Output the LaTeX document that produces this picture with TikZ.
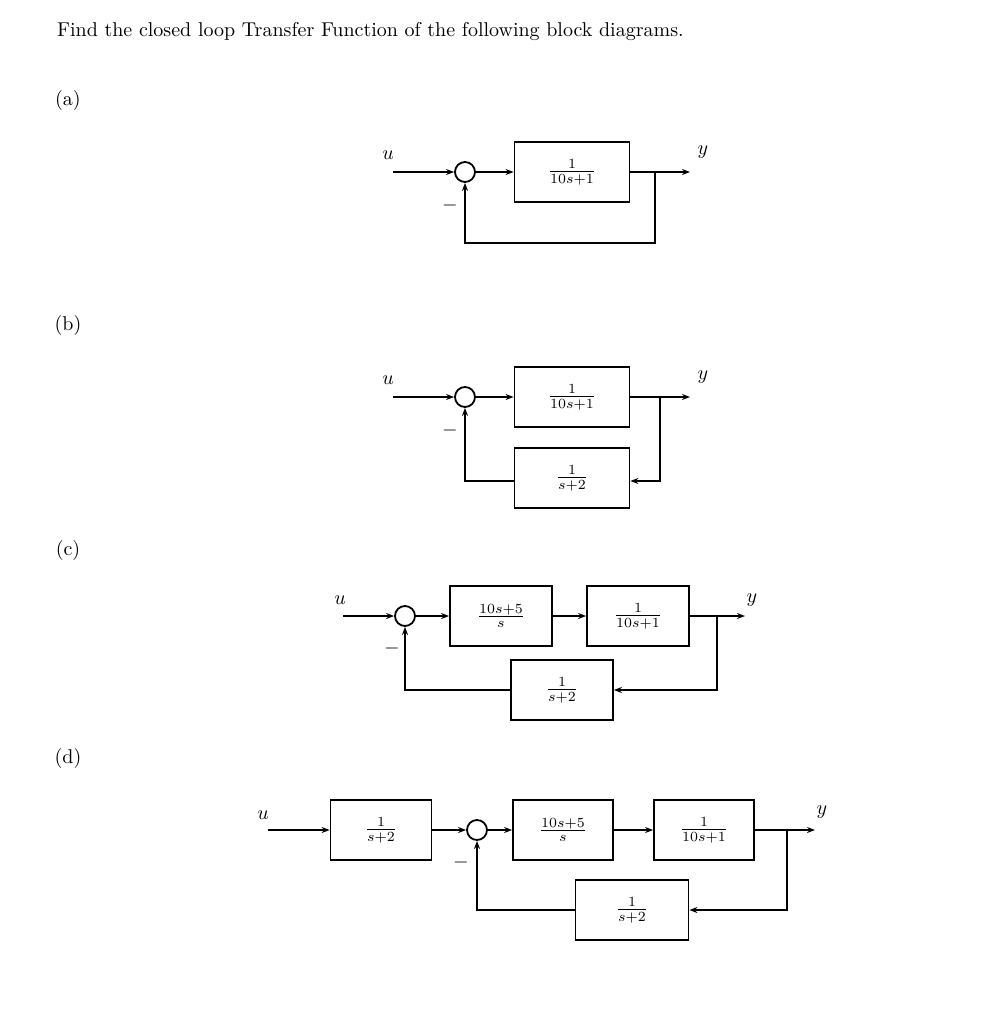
\documentclass[tikz,border=0pt]{standalone}
\usetikzlibrary{arrows.meta}
\begin{document}
\begin{tikzpicture}[x=0.5pt,y=-0.5pt,
 blk/.style={draw,line width=0.9pt,minimum width=#1*0.5pt,minimum height=30pt,inner sep=0pt},
 blk/.default=115,
 sumc/.style={draw,circle,line width=0.9pt,minimum size=10pt,inner sep=0pt},
 ln/.style={line width=0.9pt},
 ar/.style={ln,-{Stealth[length=4pt,width=3pt]}},
 lbl/.style={font=\normalsize}]
\useasboundingbox (0,0) rectangle (988,1024);
\node[anchor=west] (title) at (50,32) {Find the closed loop Transfer Function of the following block diagrams.};
\node (la) at (68,100) {(a)};
\node (lb) at (68,325) {(b)};
\node (lc) at (68,550) {(c)};
\node (ld) at (68,758) {(d)};
% (a)
\node (ua) at (388,155) {$u$};
\coordinate (ina) at (393,172);
\node[sumc] (sa) at (465,172) {};
\node[blk] (ga) at (572,172) {$\frac{1}{10s+1}$};
\coordinate (oa) at (690,172);
\node (ya) at (703,152) {$y$};
\coordinate (ba) at (655,172);
\coordinate (fa) at (655,243);
\coordinate (fa2) at (465,243);
\node (ma) at (450,205) {$-$};
\draw[ar] (ina) -- (sa);
\draw[ar] (sa) -- (ga);
\draw[ar] (ga) -- (oa);
\draw[ar] (ba) -- (fa) -- (fa2) -- (sa);
% (b)
\node (ub) at (388,380) {$u$};
\coordinate (inb) at (393,397);
\node[sumc] (sb) at (465,397) {};
\node[blk] (gb) at (572,397) {$\frac{1}{10s+1}$};
\coordinate (ob) at (690,397);
\node (yb) at (703,377) {$y$};
\coordinate (bb) at (660,397);
\coordinate (fb) at (660,481);
\node[blk] (hb) at (572,478) {$\frac{1}{s+2}$};
\coordinate (fb2) at (465,481);
\node (mb) at (450,430) {$-$};
\draw[ar] (inb) -- (sb);
\draw[ar] (sb) -- (gb);
\draw[ar] (gb) -- (ob);
\draw[ar] (bb) -- (fb) -- (hb.east |- fb);
\draw[ar] (hb.west |- fb2) -- (fb2) -- (sb);
% (c)
\node (uc) at (340,600) {$u$};
\coordinate (inc) at (343,616);
\node[sumc] (sc) at (405,616) {};
\node[blk=102] (g1c) at (501,616) {$\frac{10s+5}{s}$};
\node[blk=102] (g2c) at (638,616) {$\frac{1}{10s+1}$};
\coordinate (oc) at (745,616);
\node (yc) at (752,600) {$y$};
\coordinate (bc) at (717,616);
\coordinate (fc) at (717,690);
\node[blk=102] (hc) at (562,690) {$\frac{1}{s+2}$};
\coordinate (fc2) at (405,690);
\node (mc) at (392,648) {$-$};
\draw[ar] (inc) -- (sc);
\draw[ar] (sc) -- (g1c);
\draw[ar] (g1c) -- (g2c);
\draw[ar] (g2c) -- (oc);
\draw[ar] (bc) -- (fc) -- (hc);
\draw[ar] (hc) -- (fc2) -- (sc);
% (d)
\node (ud) at (263,815) {$u$};
\coordinate (ind) at (268,830);
\node[blk=101] (pd) at (381,830) {$\frac{1}{s+2}$};
\node[sumc] (sd) at (477,830) {};
\node[blk=100] (g1d) at (563,830) {$\frac{10s+5}{s}$};
\node[blk=100] (g2d) at (704,830) {$\frac{1}{10s+1}$};
\coordinate (od) at (815,830);
\node (yd) at (822,812) {$y$};
\coordinate (bd) at (787,830);
\coordinate (fd) at (787,910);
\node[blk=113] (hd) at (632,910) {$\frac{1}{s+2}$};
\coordinate (fd2) at (477,910);
\node (md) at (461,862) {$-$};
\draw[ar] (ind) -- (pd);
\draw[ar] (pd) -- (sd);
\draw[ar] (sd) -- (g1d);
\draw[ar] (g1d) -- (g2d);
\draw[ar] (g2d) -- (od);
\draw[ar] (bd) -- (fd) -- (hd);
\draw[ar] (hd) -- (fd2) -- (sd);
\end{tikzpicture}
\end{document}
